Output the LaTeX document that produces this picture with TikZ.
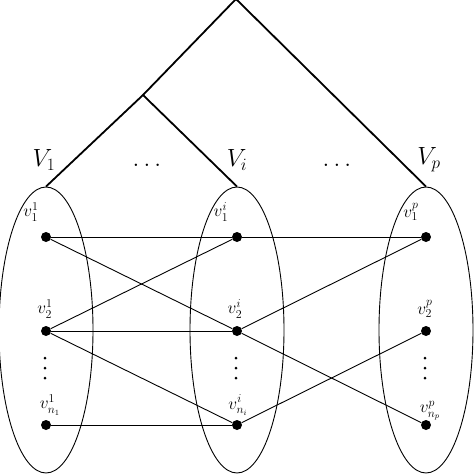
\documentclass[tikz,border=0pt]{standalone}
\usetikzlibrary{shapes.geometric}
\begin{document}
\begin{tikzpicture}[x=1pt,y=-1pt,
  part/.style={draw, ellipse, line width=0.9pt, minimum width=94pt, minimum height=286pt, inner sep=0pt},
  vert/.style={circle, fill=black, inner sep=0pt, minimum size=10pt},
  dotmark/.style={circle, fill=black, inner sep=0pt, minimum size=3pt},
  edge/.style={line width=0.9pt},
  tree/.style={line width=1.8pt},
  big/.style={font=\fontsize{24}{28}\selectfont, inner sep=0pt},
  small/.style={font=\fontsize{16.5}{19}\selectfont, inner sep=0pt}]
\useasboundingbox (0,0) rectangle (474,475);
% partitions
\node[part] (P1) at (46,330) {};
\node[part] (Pi) at (237,330) {};
\node[part] (Pp) at (426,330) {};
% tree
\coordinate (root) at (236,-1);
\coordinate (mid) at (143,95);
\draw[tree] (root) -- (mid) -- (P1.north);
\draw[tree] (mid) -- (Pi.north);
\draw[tree] (root) -- (Pp.north);
% set labels
\node[big] (L1) at (44,160) {$V_1$};
\node[big] (Li) at (237,160) {$V_i$};
\node[big] (Lp) at (429,160) {$V_p$};
\node[big] (d1) at (147,165) {$\ldots$};
\node[big] (d2) at (337,165) {$\ldots$};
% vertices
\node[vert] (a1) at (46,237) {};
\node[vert] (ai) at (237,237) {};
\node[vert] (ap) at (426,237) {};
\node[vert] (b1) at (46,331) {};
\node[vert] (bi) at (237,331) {};
\node[vert] (bp) at (426,331) {};
\node[vert] (c1) at (46,425) {};
\node[vert] (ci) at (237,425) {};
\node[vert] (cp) at (426,425) {};
% vertex labels
\node[small] (la1) at (31,212) {$v_1^1$};
\node[small] (lai) at (221,212) {$v_1^i$};
\node[small] (lap) at (411,212) {$v_1^p$};
\node[small] (lb1) at (45,309) {$v_2^1$};
\node[small] (lbi) at (235,309) {$v_2^i$};
\node[small] (lbp) at (425,309) {$v_2^p$};
\node[small] (lc1) at (50,405) {$v_{n_1}^1$};
\node[small] (lci) at (238,405) {$v_{n_i}^i$};
\node[small] (lcp) at (430,411) {$v_{n_p}^p$};
% vertical dots
\foreach \x/\n in {45/e1,236/ei,425/ep}{
  \node[dotmark] (\n a) at (\x,358) {};
  \node[dotmark] (\n b) at (\x,368) {};
  \node[dotmark] (\n c) at (\x,378) {};
}
% edges
\draw[edge] (a1) -- (ai);
\draw[edge] (ai) -- (ap);
\draw[edge] (a1) -- (bi);
\draw[edge] (b1) -- (ai);
\draw[edge] (b1) -- (bi);
\draw[edge] (b1) -- (ci);
\draw[edge] (bi) -- (ap);
\draw[edge] (bi) -- (cp);
\draw[edge] (ci) -- (bp);
\draw[edge] (c1) -- (ci);
\end{tikzpicture}
\end{document}
